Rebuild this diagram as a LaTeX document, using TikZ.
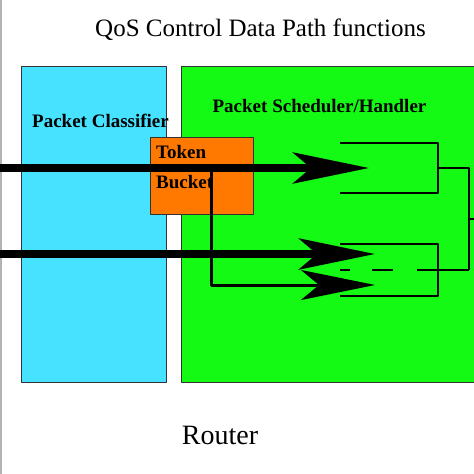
\documentclass[tikz,border=0pt]{standalone}
\usepackage{fontspec}
\setmainfont{Liberation Serif}
\usetikzlibrary{arrows.meta}
\definecolor{clsblue}{RGB}{70,226,255}
\definecolor{schgreen}{RGB}{20,250,20}
\definecolor{tbkorange}{RGB}{255,120,0}
\begin{document}
\begin{tikzpicture}[x=1pt,y=-1pt,line join=round,>=Stealth]
	\tikzset{box/.style={draw=black!80,line width=0.8pt,inner sep=0pt},
		lbl/.style={font=\fontsize{19}{21}\selectfont\bfseries,inner sep=0pt},
		flow/.style={line width=8pt,-{Stealth[length=76pt,width=31pt,inset=18pt]}},
		tbflow/.style={line width=3pt,-{Stealth[length=74pt,width=30pt,inset=18pt]}},
		queue/.style={line width=2pt}}
	\useasboundingbox (0,0) rectangle (474,474);
	\draw[gray!60,line width=2pt] (1,0)--(1,474);
	% boxes
	\node[box,fill=clsblue,minimum width=145pt,minimum height=316pt] (clsbox) at (93.5,224) {};
	\node[box,fill=schgreen,minimum width=300pt,minimum height=316pt] (schbox) at (331,224) {};
	% texts
	\node[anchor=base,font=\fontsize{25}{28}\selectfont,inner sep=0pt] (title) at (260.5,36) {QoS Control Data Path functions};
	\node[lbl,anchor=base] (schlbl) at (319.5,112) {Packet Scheduler/Handler};
	\node[lbl,anchor=base west] (clslbl) at (32,127) {Packet Classifier};
	\node[anchor=base,font=\fontsize{28}{30}\selectfont,inner sep=0pt] (router) at (220,444) {Router};
	% token bucket
	\node[box,fill=tbkorange,minimum width=103pt,minimum height=77pt] (tbox) at (201.5,175.5) {};
	\node[lbl,anchor=base west] (token) at (156,158) {Token};
	\node[lbl,anchor=base west] (bucket) at (156,188) {Bucket};
	% queues
	\draw[queue] (340,143)--(438,143)--(438,193)--(340,193);
	\draw[queue] (340,244)--(438,244)--(438,296)--(340,296);
	\draw[queue] (438,168)--(469,168)--(469,270);
	\draw[queue,dash pattern={on 52pt off 24pt on 21pt off 22pt on 10pt}] (469,270)--(340,270);
	\draw[queue] (469,219)--(476,219);
	% flows
	\coordinate (in1) at (0,168);
	\coordinate (q1) at (369,168);
	\coordinate (in2) at (0,254);
	\coordinate (q2) at (375,254);
	\coordinate (tbout) at (211,168);
	\coordinate (q2b) at (375,285);
	\draw[flow] (in1)--(q1);
	\draw[flow] (in2)--(q2);
	\draw[tbflow] (tbout)|-(q2b);
\end{tikzpicture}
\end{document}
